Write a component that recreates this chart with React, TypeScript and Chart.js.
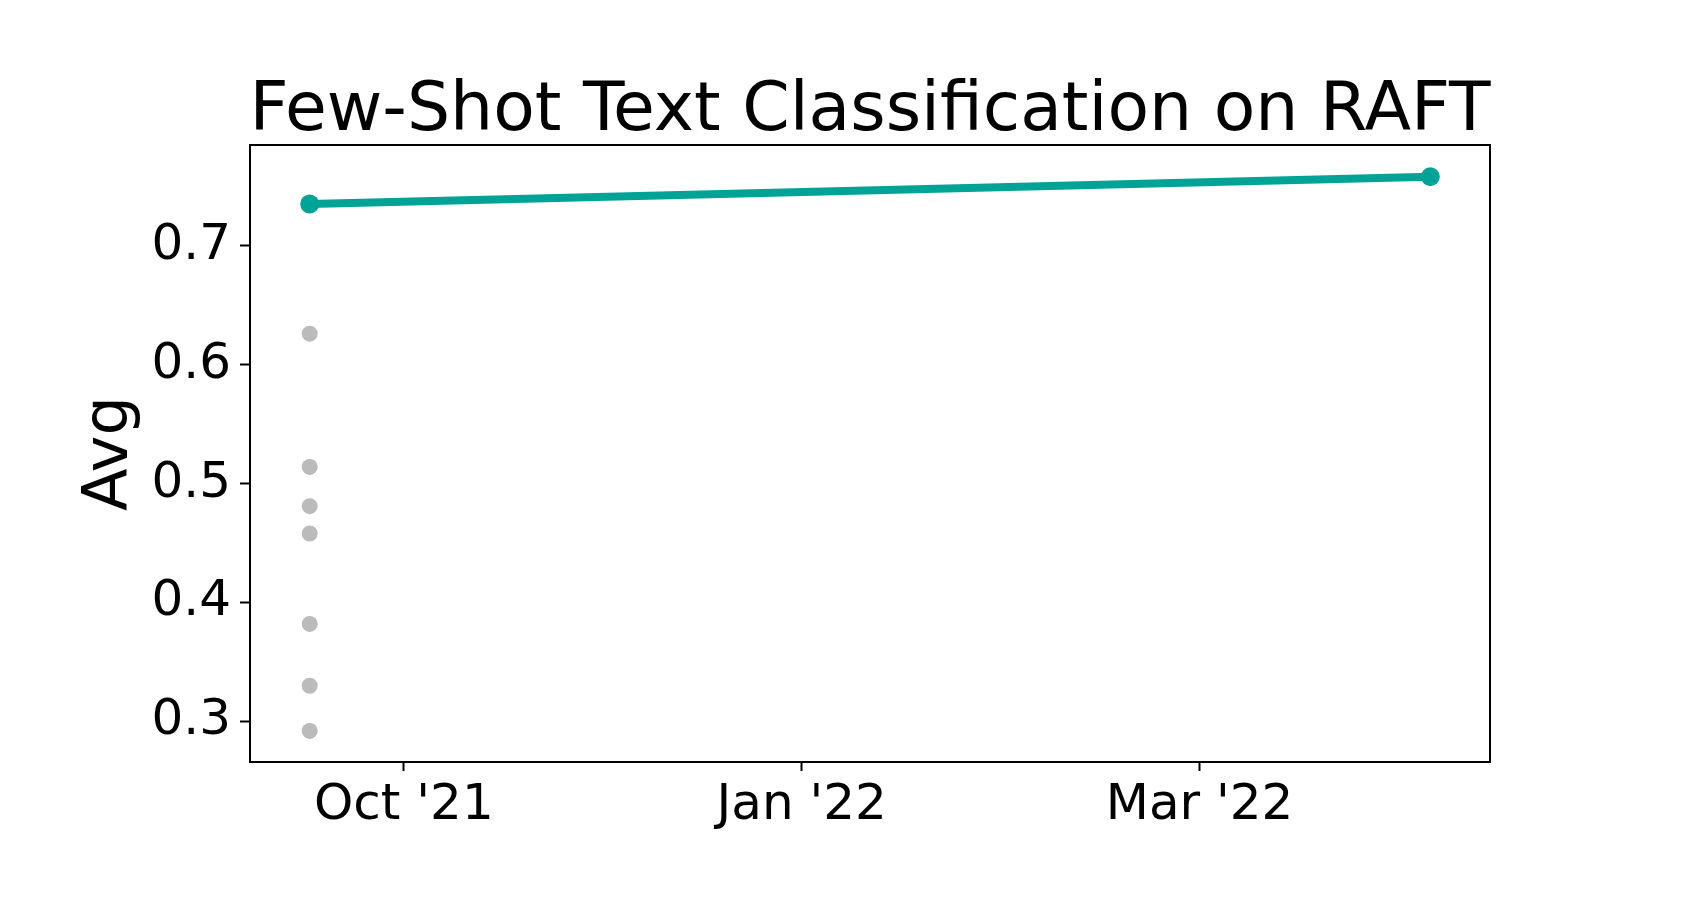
import { useEffect, useRef } from 'react'
import { Chart, registerables } from 'chart.js'
Chart.register(...registerables)

// x is months counted from Oct '21 (0)
const lineX = [-0.71, 7.74]
const lineY = [0.735, 0.758]
const dotX = [-0.71, -0.71, -0.71, -0.71, -0.71, -0.71, -0.71]
const dotY = [0.626, 0.514, 0.481, 0.458, 0.382, 0.330, 0.292]
const xTicks = [0, 3, 6]
const xLabels = ["Oct '21", "Jan '22", "Mar '22"]
const yTicks = [0.3, 0.4, 0.5, 0.6, 0.7]

const FONT = "'DejaVu Sans', sans-serif"

const frame = {
  id: 'frame',
  afterDraw(chart: any) {
    const { ctx, chartArea: a } = chart
    ctx.save()
    ctx.strokeStyle = '#000'
    ctx.lineWidth = 2
    ctx.strokeRect(a.left, a.top, a.right - a.left, a.bottom - a.top)
    ctx.fillStyle = '#000'
    ctx.textAlign = 'center'
    ctx.textBaseline = 'alphabetic'
    ctx.font = `68px ${FONT}`
    ctx.fillText('Few-Shot Text Classification on RAFT', (a.left + a.right) / 2, 130)
    ctx.translate(127, (a.top + a.bottom) / 2)
    ctx.rotate(-Math.PI / 2)
    ctx.font = `62px ${FONT}`
    ctx.fillText('Avg', 0, 0)
    ctx.restore()
  },
}

export default function App() {
  const ref = useRef<HTMLCanvasElement>(null)

  useEffect(() => {
    if (!ref.current) return
    const chart = new Chart(ref.current, {
      type: 'scatter',
      data: {
        datasets: [
          { label: 'others', data: dotX.map((x, i) => ({ x, y: dotY[i] })), backgroundColor: '#bbbbbb', borderWidth: 0, pointRadius: 8 },
          { label: 'sota', type: 'line', data: lineX.map((x, i) => ({ x, y: lineY[i] })), borderColor: '#00a396', backgroundColor: '#00a396', borderWidth: 8, pointRadius: 9.5, pointBorderWidth: 0, fill: false },
        ],
      },
      options: {
        animation: false, responsive: false, devicePixelRatio: 1,
        layout: { padding: { top: 145, right: 210, left: 0, bottom: 0 } },
        plugins: { legend: { display: false }, tooltip: { enabled: false } },
        scales: {
          x: {
            type: 'linear', min: -1.16, max: 8.19,
            afterFit: (s: any) => { s.height = 138 },
            afterBuildTicks: (s: any) => { s.ticks = xTicks.map(v => ({ value: v })) },
            border: { display: false },
            grid: { drawOnChartArea: false, drawTicks: true, tickLength: 9, tickWidth: 2, tickColor: '#000' },
            ticks: { color: '#000', font: { family: FONT, size: 50 }, padding: 5, maxRotation: 0, callback: (v: any) => xLabels[xTicks.indexOf(Number(v))] ?? '' },
          },
          y: {
            type: 'linear', min: 0.2659, max: 0.7846,
            afterFit: (s: any) => { s.width = 250 },
            afterBuildTicks: (s: any) => { s.ticks = yTicks.map(v => ({ value: v })) },
            border: { display: false },
            grid: { drawOnChartArea: false, drawTicks: true, tickLength: 10, tickWidth: 2, tickColor: '#000' },
            ticks: { color: '#000', font: { family: FONT, size: 50 }, padding: 9, callback: (v: any) => Number(v).toFixed(1) },
          },
        },
      },
      plugins: [frame],
    })
    return () => chart.destroy()
  }, [])

  return (
    <div style={{ position: 'absolute', left: 0, top: 0, width: 1700, height: 900, background: '#fff' }}>
      <canvas ref={ref} width={1700} height={900} />
    </div>
  )
}
